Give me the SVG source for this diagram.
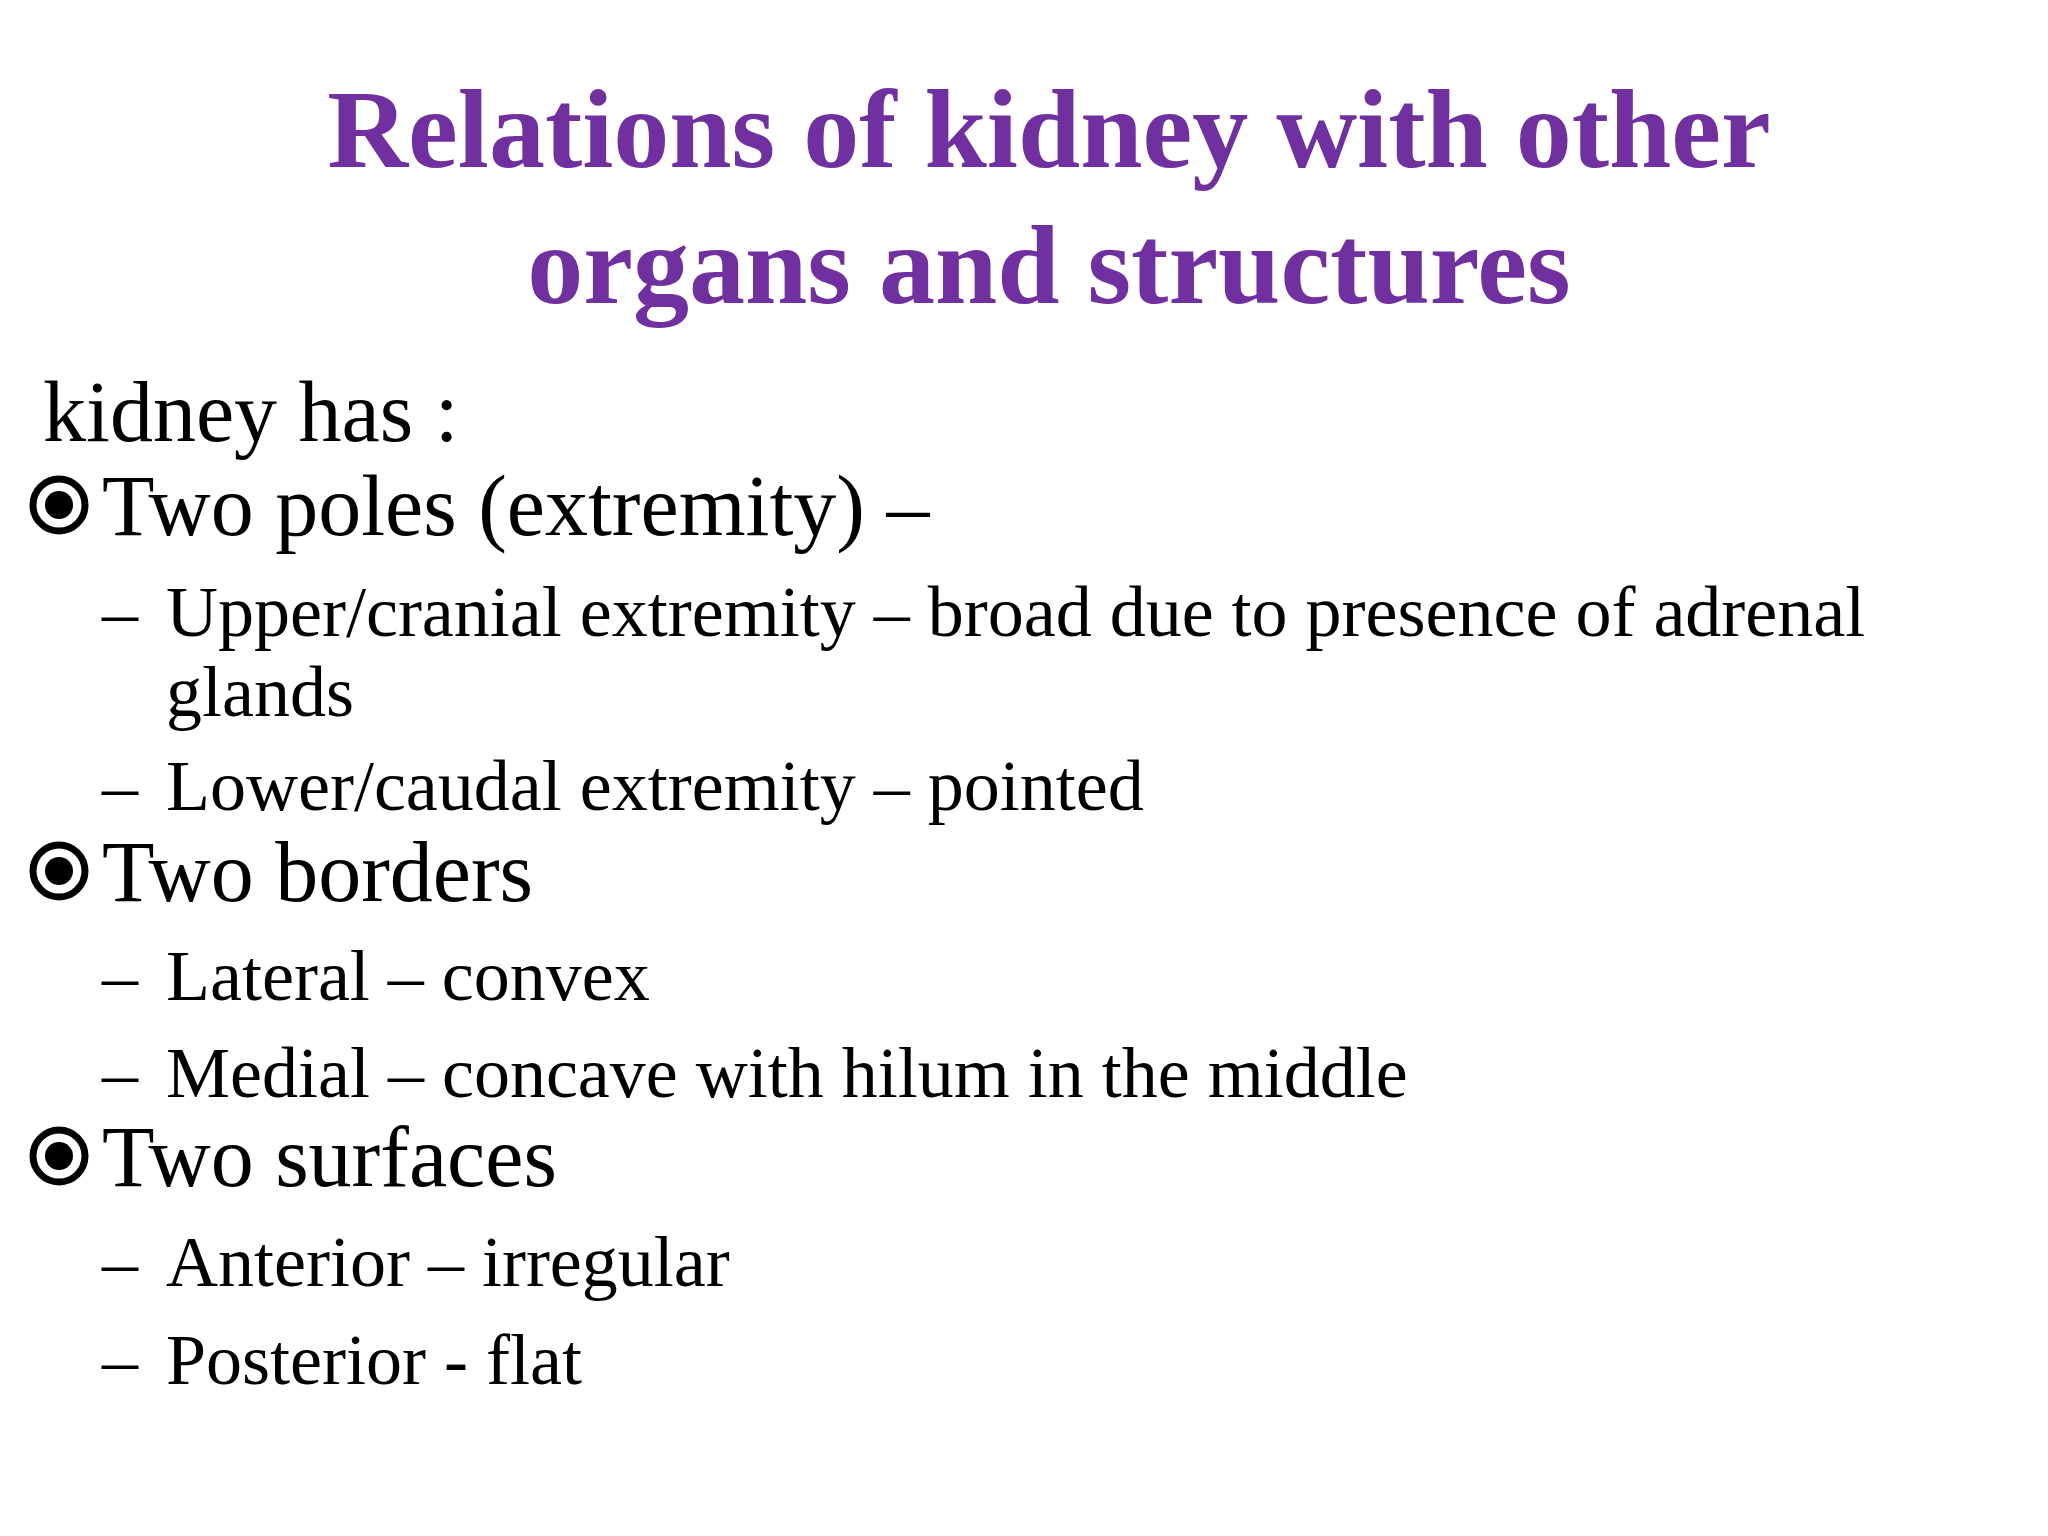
<svg xmlns="http://www.w3.org/2000/svg" width="2048" height="1536" viewBox="0 0 2048 1536">
<style>
.t{font-family:"Liberation Serif","Times New Roman",serif;fill:#7030a0;font-weight:bold;font-size:112px;text-anchor:middle}
.m{font-family:"Liberation Serif","Times New Roman",serif;fill:#000;font-size:86px}
.s{font-family:"Liberation Serif","Times New Roman",serif;fill:#000;font-size:72px}
</style>
<rect width="2048" height="1536" fill="#fff"/>
<g id="title">
<text class="t" x="1049" y="167">Relations of kidney with other</text>
<text class="t" x="1049" y="303">organs and structures</text>
</g>
<g id="body">
<text class="m" x="43" y="441">kidney has :</text>
<g id="b1"><circle cx="59" cy="505" r="26" fill="none" stroke="#000" stroke-width="7"/><circle cx="59" cy="505" r="14" fill="#000"/></g>
<text class="m" x="102" y="535">Two poles (extremity) –</text>
<text class="s" x="102" y="636">–</text><text class="s" x="166" y="636">Upper/cranial extremity – broad due to presence of adrenal</text>
<text class="s" x="166" y="716">glands</text>
<text class="s" x="102" y="810">–</text><text class="s" x="166" y="810">Lower/caudal extremity – pointed</text>
<g id="b2"><circle cx="59" cy="871" r="26" fill="none" stroke="#000" stroke-width="7"/><circle cx="59" cy="871" r="14" fill="#000"/></g>
<text class="m" x="102" y="901">Two borders</text>
<text class="s" x="102" y="1000">–</text><text class="s" x="166" y="1000">Lateral – convex</text>
<text class="s" x="102" y="1097">–</text><text class="s" x="166" y="1097">Medial – concave with hilum in the middle</text>
<g id="b3"><circle cx="59" cy="1156" r="26" fill="none" stroke="#000" stroke-width="7"/><circle cx="59" cy="1156" r="14" fill="#000"/></g>
<text class="m" x="102" y="1186">Two surfaces</text>
<text class="s" x="102" y="1286">–</text><text class="s" x="166" y="1286">Anterior – irregular</text>
<text class="s" x="102" y="1384">–</text><text class="s" x="166" y="1384">Posterior - flat</text>
</g>
</svg>
